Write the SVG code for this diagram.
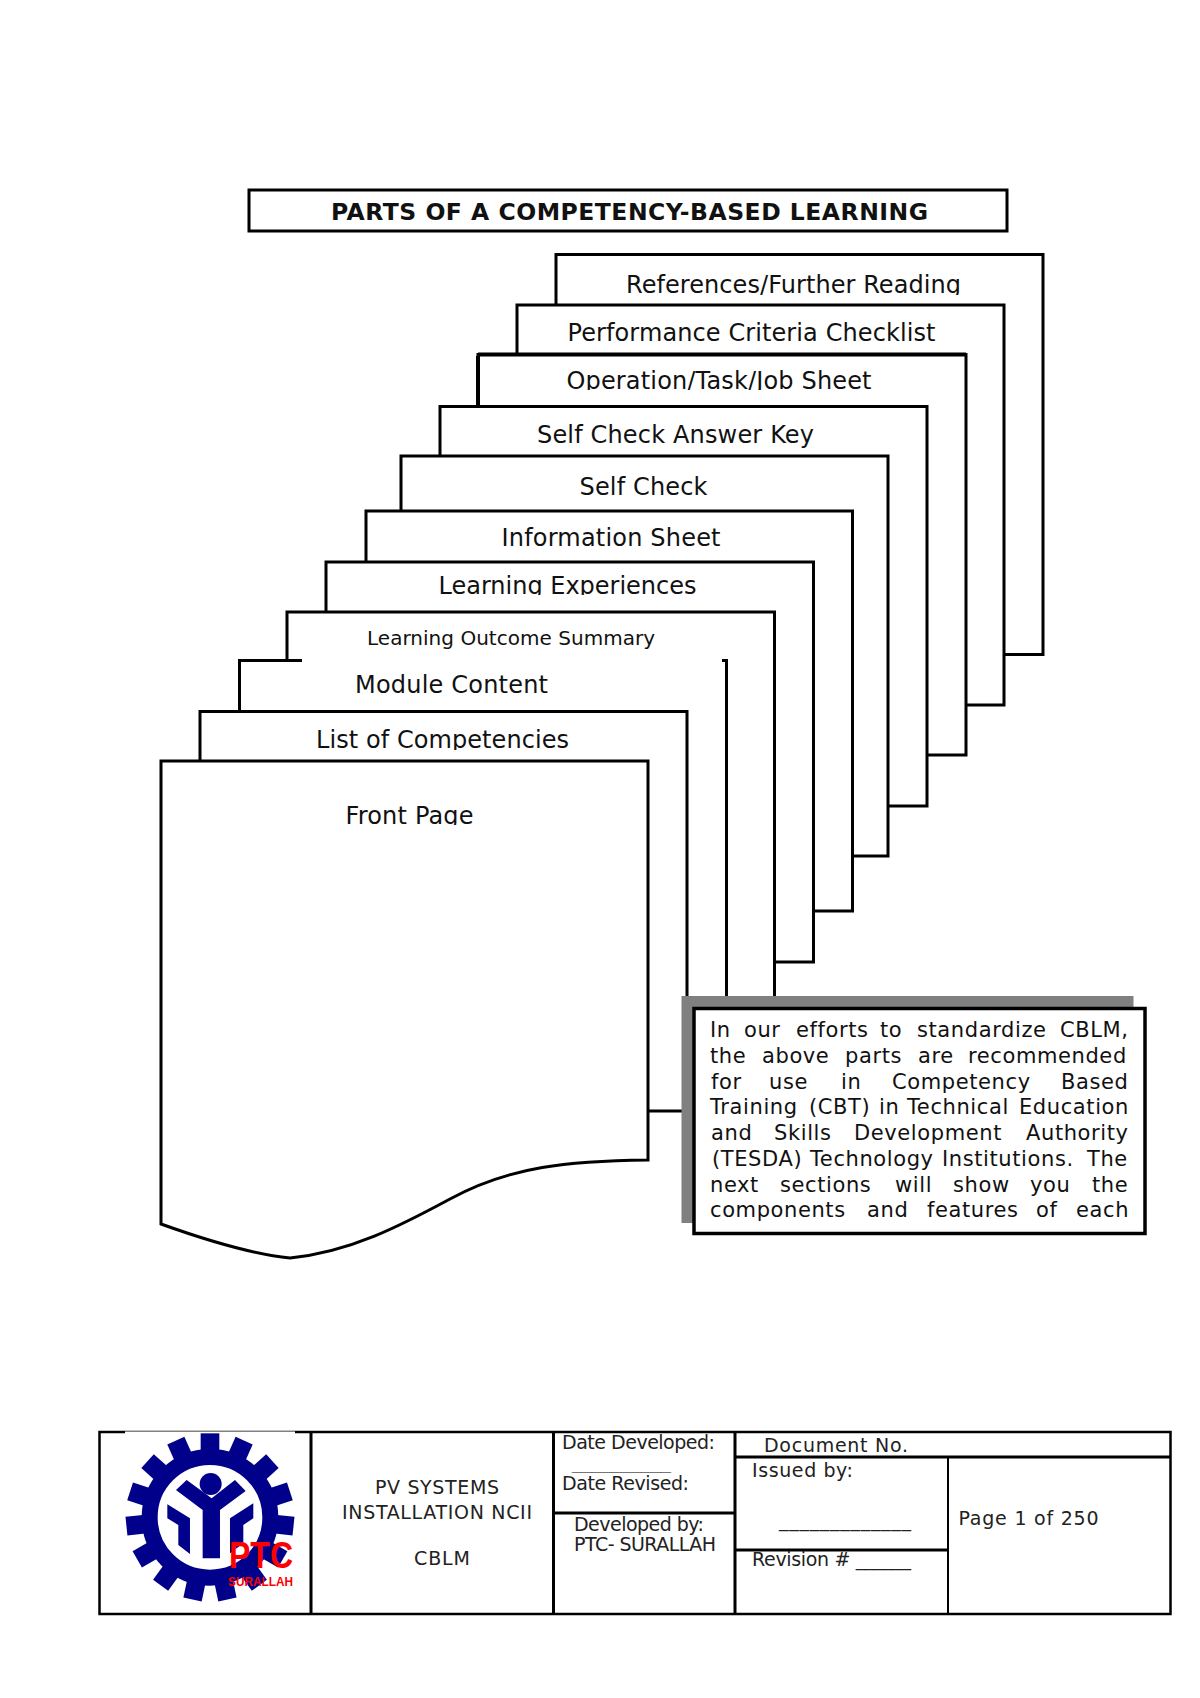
<svg xmlns="http://www.w3.org/2000/svg" xmlns:xlink="http://www.w3.org/1999/xlink" width="1200" height="1698" viewBox="0 0 1200 1698">
<style>
text{font-family:"DejaVu Sans",Verdana,sans-serif;fill:#111}
.l{font-size:24px}
.f{font-size:19px;fill:#222}
.u{font-size:9px;fill:#000}
.b{font-size:21px;letter-spacing:.6px}
.p{fill:#fff;stroke:#000;stroke-width:3;stroke-linejoin:miter}
.n{fill:none;stroke:#000;stroke-width:3}
.t{fill:none;stroke:#000;stroke-width:2.5}
.g{fill:#00008b}
</style>
<defs>
<clipPath id="c1"><rect x="600" y="260" width="380" height="35"/></clipPath>
<clipPath id="c2"><rect x="540" y="360" width="350" height="30"/></clipPath>
<clipPath id="c3"><rect x="420" y="565" width="300" height="30"/></clipPath>
<clipPath id="c4"><rect x="300" y="720" width="290" height="30"/></clipPath>
<clipPath id="c5"><rect x="330" y="795" width="160" height="30"/></clipPath>
<rect id="tooth" x="362" y="70" width="56" height="60"/>
</defs>
<g id="title"><rect x="249" y="190" width="758" height="41" class="p"/><text x="331" y="220" font-size="23.500" font-weight="700" textLength="597">PARTS OF A COMPETENCY-BASED LEARNING</text></g>
<g id="connectors">
<path class="n" d="M648,1111H683"/>
</g>
<g id="page-references"><rect x="556" y="254.500" width="487" height="400" class="p"/><text class="l" x="626" y="293" textLength="335" clip-path="url(#c1)">References/Further Reading</text></g>
<g id="page-performance"><rect x="517" y="305" width="487" height="400" class="p"/><text class="l" x="567.500" y="341" textLength="368">Performance Criteria Checklist</text></g>
<g id="page-operation"><rect x="478" y="354.500" width="488" height="400.500" class="p"/><path class="n" style="stroke-width:4" d="M478,356V406M478,354.500H966"/><text class="l" x="566.500" y="389" textLength="305" clip-path="url(#c2)">Operation/Task/Job Sheet</text></g>
<g id="page-answer-key"><rect x="440" y="406.500" width="487" height="399.500" class="p"/><text class="l" x="537" y="443" textLength="277">Self Check Answer Key</text></g>
<g id="page-self-check"><rect x="401" y="456" width="487" height="400" class="p"/><text class="l" x="579.500" y="495" textLength="128">Self Check</text></g>
<g id="page-information"><rect x="366" y="511" width="486.500" height="400" class="p"/><text class="l" x="501.500" y="546" textLength="219">Information Sheet</text></g>
<g id="page-experiences"><rect x="326" y="562" width="487.500" height="400" class="p"/><text class="l" x="438.500" y="594" textLength="258" clip-path="url(#c3)">Learning Experiences</text></g>
<g id="page-outcome"><path d="M287,660V612H774V996H287Z" fill="#fff"/><path class="n" d="M287,660V612H774.500V996"/><text x="367" y="645" font-size="20" textLength="288">Learning Outcome Summary</text></g>
<g id="page-module"><path class="n" d="M302,660.500H239.500V711M722,660.500H726.500V996"/><text class="l" x="355" y="693" textLength="193">Module Content</text></g>
<g id="page-list"><path d="M200,761V711.500H687V996H648V761Z" fill="#fff"/><path class="n" d="M200,761V711.500H687V996"/><text class="l" x="316" y="748" textLength="253" clip-path="url(#c4)">List of Competencies</text></g>
<g id="page-front"><path class="p" d="M161,761H648V1160C570,1161 510,1166 450,1199C400,1226 350,1252 290,1258C250,1254 200,1238 161,1224Z"/><text class="l" x="345.500" y="824" textLength="128" clip-path="url(#c5)">Front Page</text></g>
<g id="note">
<rect x="681.500" y="996" width="452" height="227" fill="#808080"/>
<rect x="694" y="1008.500" width="451" height="225" fill="#fff" stroke="#000" stroke-width="3.500"/>
<text class="b" y="1037"><tspan x="710">In</tspan><tspan x="744">our</tspan><tspan x="796">efforts</tspan><tspan x="880">to</tspan><tspan x="917">standardize</tspan><tspan x="1060">CBLM,</tspan></text>
<text class="b" y="1063"><tspan x="710">the</tspan><tspan x="762">above</tspan><tspan x="845">parts</tspan><tspan x="918">are</tspan><tspan x="968">recommended</tspan></text>
<text class="b" y="1089"><tspan x="711">for</tspan><tspan x="769">use</tspan><tspan x="841">in</tspan><tspan x="892">Competency</tspan><tspan x="1061">Based</tspan></text>
<text class="b" y="1114"><tspan x="710">Training</tspan><tspan x="809">(CBT)</tspan><tspan x="879">in</tspan><tspan x="907">Technical</tspan><tspan x="1019">Education</tspan></text>
<text class="b" y="1140"><tspan x="711">and</tspan><tspan x="774">Skills</tspan><tspan x="854">Development</tspan><tspan x="1026">Authority</tspan></text>
<text class="b" y="1166"><tspan x="712">(TESDA)</tspan><tspan x="810">Technology</tspan><tspan x="942">Institutions.</tspan><tspan x="1087">The</tspan></text>
<text class="b" y="1192"><tspan x="710">next</tspan><tspan x="780">sections</tspan><tspan x="895">will</tspan><tspan x="953">show</tspan><tspan x="1030">you</tspan><tspan x="1092">the</tspan></text>
<text class="b" y="1217"><tspan x="710">components</tspan><tspan x="867">and</tspan><tspan x="927">features</tspan><tspan x="1036">of</tspan><tspan x="1076">each</tspan></text>
</g>
<g id="footer-table">
<rect x="99.500" y="1432" width="1071" height="182" class="t"/>
<path class="t" style="stroke-width:3" d="M311,1432V1614M553.500,1432V1614M735,1432V1614M553,1513H735M735,1457H1170M735,1550H948"/>
<path class="t" style="stroke-width:2" d="M948,1457V1614"/>
</g>
<g id="logo">
<rect x="125" y="1431.500" width="170" height="172" fill="#fff"/>
<g transform="translate(80 1410) scale(.3333)" class="g">
<circle cx="390" cy="322" r="181" fill="none" stroke="#00008b" stroke-width="48"/>
<use xlink:href="#tooth"/><use xlink:href="#tooth" transform="rotate(24 390 322)"/><use xlink:href="#tooth" transform="rotate(48 390 322)"/><use xlink:href="#tooth" transform="rotate(72 390 322)"/><use xlink:href="#tooth" transform="rotate(96 390 322)"/><use xlink:href="#tooth" transform="rotate(120 390 322)"/><use xlink:href="#tooth" transform="rotate(144 390 322)"/><use xlink:href="#tooth" transform="rotate(168 390 322)"/><use xlink:href="#tooth" transform="rotate(192 390 322)"/><use xlink:href="#tooth" transform="rotate(216 390 322)"/><use xlink:href="#tooth" transform="rotate(240 390 322)"/><use xlink:href="#tooth" transform="rotate(264 390 322)"/><use xlink:href="#tooth" transform="rotate(288 390 322)"/><use xlink:href="#tooth" transform="rotate(312 390 322)"/><use xlink:href="#tooth" transform="rotate(336 390 322)"/>
<circle cx="392" cy="222" r="33"/>
<path d="M288,240L320,210L395,265L465,210L497,243L420,300V445H368V300Z"/>
<path d="M262,283L330,325V432L295,405V345L262,325Z"/>
<path d="M520,280V325L490,345V400L450,430V325Z"/>
</g>
<text x="229" y="1567.500" font-size="36" font-weight="700" textLength="64" lengthAdjust="spacingAndGlyphs" style="font-family:'Liberation Sans',Arial,sans-serif;fill:#f00">PTC</text>
<text x="228" y="1586" font-size="12" font-weight="700" textLength="65" lengthAdjust="spacingAndGlyphs" style="font-family:'Liberation Sans',Arial,sans-serif;fill:#f00">SURALLAH</text>
</g>
<g id="footer-text">
<text class="f" x="375" y="1494" textLength="124">PV SYSTEMS</text>
<text class="f" x="342" y="1519" textLength="190">INSTALLATION NCII</text>
<text class="f" x="414" y="1565" textLength="56">CBLM</text>
<text class="f" x="562" y="1449" textLength="153">Date Developed:</text>
<text class="u" x="572" y="1471" textLength="99" lengthAdjust="spacingAndGlyphs">__________</text>
<text class="f" x="562" y="1490" textLength="127">Date Revised:</text>
<text class="f" x="574" y="1531" textLength="130">Developed by:</text>
<text class="f" x="574" y="1551" textLength="142">PTC- SURALLAH</text>
<text class="f" x="764" y="1452" textLength="144">Document No.</text>
<text class="f" x="752" y="1477" textLength="101">Issued by:</text>
<text class="f" x="779" y="1527" textLength="132">_____________</text>
<text class="f" x="752" y="1566" textLength="159">Revision # ______</text>
<text class="f" x="958.500" y="1525" textLength="140">Page 1 of 250</text>
</g>
</svg>
